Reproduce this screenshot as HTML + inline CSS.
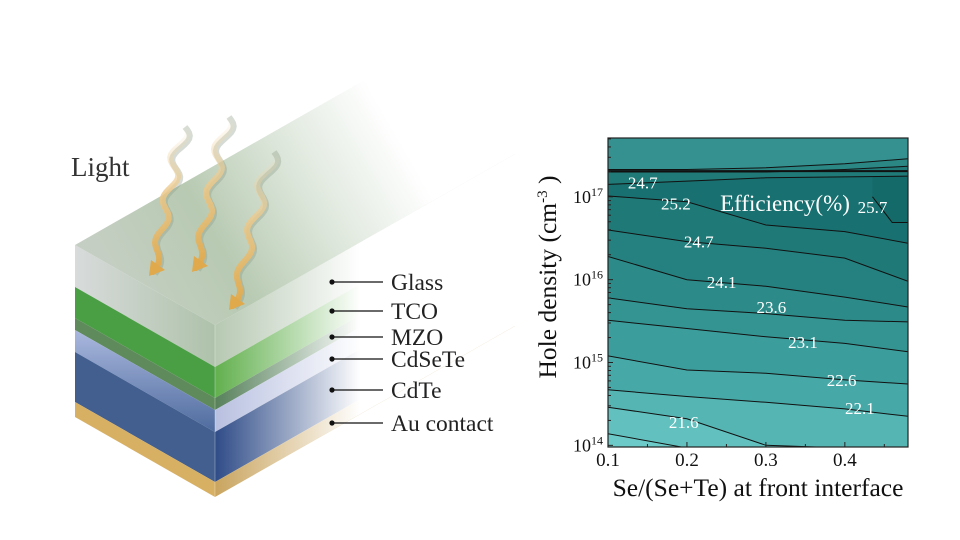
<!DOCTYPE html>
<html><head><meta charset="utf-8"><style>
html,body{margin:0;padding:0;background:#fff;overflow:hidden;width:960px;height:540px;}
svg{display:block;font-family:"Liberation Serif",serif;}
</style></head><body>
<svg id="root" width="960" height="540" viewBox="0 0 960 540">
<defs>
  <linearGradient id="fadeR" gradientUnits="userSpaceOnUse" x1="215" y1="0" x2="360" y2="0">
    <stop offset="0" stop-color="#fff" stop-opacity="0"/>
    <stop offset="1" stop-color="#fff" stop-opacity="1"/>
  </linearGradient>
  <linearGradient id="topG" gradientUnits="userSpaceOnUse" x1="120" y1="300" x2="400" y2="140">
    <stop offset="0" stop-color="#c2ccc0"/>
    <stop offset="0.35" stop-color="#b4c7ae"/>
    <stop offset="0.7" stop-color="#dfe8dd"/>
    <stop offset="1" stop-color="#ffffff"/>
  </linearGradient>
  <linearGradient id="glassL" x1="0" y1="0" x2="1" y2="0">
    <stop offset="0" stop-color="#d8dbdb"/>
    <stop offset="1" stop-color="#aec2aa"/>
  </linearGradient>
  <linearGradient id="cdseL" x1="0" y1="0" x2="0" y2="1">
    <stop offset="0" stop-color="#aab8de"/>
    <stop offset="1" stop-color="#4e6b9e"/>
  </linearGradient>
  <linearGradient id="arrowG" x1="0" y1="0" x2="0" y2="1">
    <stop offset="0" stop-color="#f2dcb4" stop-opacity="0"/>
    <stop offset="0.45" stop-color="#ecc98c" stop-opacity="0.85"/>
    <stop offset="1" stop-color="#dfa94c"/>
  </linearGradient>
  <clipPath id="plotClip"><rect x="608" y="138" width="300" height="309"/></clipPath>
</defs>

<g id="device"></g>
<text x="71" y="176" font-size="27" fill="#333">Light</text>
<g id="arrows"></g>
<g id="layerLabels"></g>

<g id="chart"></g>
</svg>
<script>
const NS="http://www.w3.org/2000/svg";
function mk(tag,attrs,parent){const e=document.createElementNS(NS,tag);for(const k in attrs)e.setAttribute(k,attrs[k]);parent.appendChild(e);return e;}

/* ---------- device ---------- */
const layerNames=["Glass","TCO","MZO","CdSeTe","CdTe","Au contact"];
const layerTops=[245,287,318,330,352,402,417];
const layerLeftFill=["url(#glassL)","#4a9e44","#5f8a5c","url(#cdseL)","#425f90","#d8b064"];
const layerRightFill=["#b6c8b2","#62b04e","#56805a","#b8c0e0","#2f4c88","#c9a45e"];
const labelY=[282,311,337,359,390,423];
const dev=document.getElementById('device');
const LX=75,FX=215,DROP=80,RL=300,RS=0.57;
for(let i=0;i<6;i++){
  const t=layerTops[i],b=layerTops[i+1];
  const p=mk('polygon',{points:`${LX},${t} ${FX},${t+DROP} ${FX},${b+DROP} ${LX},${b}`,fill:layerLeftFill[i]},dev);
  
  
  const g=mk('g',{},dev);
  
  
  const pts=`${FX},${t+DROP} ${FX+RL},${t+DROP-RL*RS} ${FX+RL},${b+DROP-RL*RS} ${FX},${b+DROP}`;
  mk('polygon',{points:pts,fill:layerRightFill[i]},g);
}
const fadeFace=mk('polygon',{points:`${FX},${245+DROP} ${FX+RL},${245+DROP-RL*RS} ${FX+RL},${417+DROP-RL*RS} ${FX},${417+DROP}`,fill:"url(#fadeR)"},dev);


const topFace=mk('polygon',{points:`${LX},245 ${FX},${245+DROP} ${FX+RL},${245+DROP-RL*RS} ${LX+RL},${245-RL*RS}`,fill:"url(#topG)",opacity:"0.95"},dev);


mk('line',{x1:FX,y1:245+DROP,x2:FX,y2:417+DROP,stroke:"#ffffff","stroke-opacity":"0.3"},dev);

const arrowStarts=[[183,125],[227,115],[272,150]];
const arrowEnds=[[153,272],[196,268],[233,306]];
const arrG=document.getElementById('arrows');
arrowStarts.forEach((s,i)=>{
  const e=arrowEnds[i];let d=`M${s[0]},${s[1]}`;
  const n=50;
  for(let k=1;k<=n;k++){const f=k/n;const x=s[0]+(e[0]-s[0])*f+7*Math.sin(f*Math.PI*7)*(1-f*0.5);const y=s[1]+(e[1]-s[1])*f;d+=` L${x.toFixed(1)},${y.toFixed(1)}`;}
  const sh=mk('path',{d:d,fill:"none",stroke:"#8a9a88","stroke-opacity":"0.35","stroke-width":"6",transform:"translate(2,2)"},arrG);
  
  
  const p=mk('path',{d:d,fill:"none",stroke:"url(#arrowG)","stroke-width":"6","stroke-linecap":"round"},arrG);
  
  
  const h=mk('polygon',{points:`${e[0]-4},${e[1]+4} ${e[0]-2},${e[1]-12} ${e[0]+12},${e[1]-2}`,fill:"#dfa94c"},arrG);
  
  
});

const llG=document.getElementById('layerLabels');
layerNames.forEach((n,i)=>{
  const g=mk('g',{},llG);
  
  
  mk('circle',{cx:332,cy:labelY[i],r:2.6,fill:"#111"},g);
  mk('line',{x1:332,y1:labelY[i],x2:383,y2:labelY[i],stroke:"#111","stroke-width":"1.3"},g);
  const t=mk('text',{x:391,y:labelY[i]+8,"font-size":"23.5",fill:"#222"},g);t.textContent=n;
});

/* ---------- chart ---------- */
const xGrid=[0.1,0.2,0.3,0.4,0.48];
const c247top=[17.33,17.33,17.35,17.40,17.46];
const cThick=[17.31,17.31,17.31,17.31,17.31];
const c247b=[17.30,17.30,17.30,17.33,17.37];
const c252top=[17.15,17.19,17.23,17.24,17.25];
const c252=[17.01,16.94,16.66,16.58,16.44];
const c241=[16.60,16.46,16.38,16.26,15.98];
const c236=[16.28,16.00,15.92,15.79,15.67];
const c231=[15.78,15.65,15.59,15.51,15.49];
const c226=[15.51,15.41,15.31,15.23,15.13];
const c221=[15.08,14.91,14.87,14.79,14.74];
const c216=[14.67,14.59,14.52,14.44,14.35];
const c211=[14.46,14.32,14.00,13.80,13.60];
const c206=[14.14,13.70,13.40,13.10,12.90];
const x257=[0.435,0.46,0.48];
const y257=[17.00,16.69,16.69];
const contourSets=[c247top,cThick,c247b,c252top,c252,c241,c236,c231,c226,c221,c216,c211,c206];
const bandColors=["#2a8784","#237e7b","#207a77","#197070","#1f7a77","#25817f","#2c8b89","#349492","#3c9e9c","#47a9a7","#54b5b3","#62c1bf","#6ccac8"];
const xTicks=[0.1,0.2,0.3,0.4];
const yTickExp=[14,15,16,17];
const labelTexts=["24.7","25.2","24.7","24.1","23.6","23.1","22.6","22.1","21.6","25.7"];
const labelX=[0.144,0.186,0.215,0.244,0.307,0.347,0.396,0.419,0.196,0.435];
const labelY2=[17.17,16.92,16.46,15.97,15.67,15.25,14.79,14.45,14.28,16.88];

const X0=608,X1=908,Y0=447,Y1=138,XMIN=0.1,XMAX=0.48,LMIN=13.98,LMAX=17.71;
const sx=v=>X0+(v-XMIN)/(XMAX-XMIN)*(X1-X0);
const sy=v=>Y0-(v-LMIN)/(LMAX-LMIN)*(Y0-Y1);
const syc=v=>Math.min(Y0+1,Math.max(Y1-1,sy(v)));
const chG=document.getElementById('chart');
const plotG=mk('g',{"clip-path":"url(#plotClip)"},chG);


const bgRect=mk('rect',{x:X0,y:Y1,width:X1-X0,height:Y0-Y1,fill:"#35918f"},plotG);


contourSets.forEach((c,i)=>{
  const pts=xGrid.map((x,j)=>`${sx(x).toFixed(1)},${syc(c[j]).toFixed(1)}`);
  const poly=mk('polygon',{points:pts.join(' ')+` ${X1},${Y0+1} ${X0},${Y0+1}`,fill:bandColors[i]},plotG);
  
  
});
const p257=mk('polygon',{points:x257.map((x,j)=>`${sx(x)},${sy(y257[j])}`).join(' ')+` ${sx(0.48)},${sy(17.25)} ${sx(0.435)},${sy(17.24)}`,fill:"#146a68"},plotG);


contourSets.forEach((c,i)=>{
  const pts=xGrid.map((x,j)=>`${sx(x).toFixed(1)},${syc(c[j]).toFixed(1)}`).join(' ');
  const l=mk('polyline',{points:pts,fill:"none",stroke:"#111","stroke-width":c===cThick?"2":"1"},plotG);
  
  
});
const l257=mk('polyline',{points:x257.map((x,j)=>`${sx(x)},${sy(y257[j])}`).join(' '),fill:"none",stroke:"#111","stroke-width":"1"},plotG);


labelTexts.forEach((t,i)=>{
  const e=mk('text',{x:sx(labelX[i]),y:sy(labelY2[i])+6,"font-size":"17",fill:"#fff","text-anchor":"middle"},plotG);
  e.textContent=t;
  
  
});
const effT=mk('text',{x:785,y:211,"font-size":"23","text-anchor":"middle",fill:"#fff"},plotG);
effT.textContent="Efficiency(%)";



const frame=mk('rect',{x:X0,y:Y1,width:X1-X0,height:Y0-Y1,fill:"none",stroke:"#222","stroke-width":"1.2"},chG);


const xtG=mk('g',{},chG);


for(let v=0.1;v<=0.4801;v+=0.05){mk('line',{x1:sx(v),x2:sx(v),y1:Y0,y2:Y0-(Math.abs(v*10-Math.round(v*10))<0.01?5:3),stroke:"#222"},xtG);}
xTicks.forEach(v=>{const t=mk('text',{x:sx(v),y:Y0+19,"font-size":"19","text-anchor":"middle",fill:"#111"},xtG);t.textContent=v.toFixed(1);
  
  });
const xTitle=mk('text',{x:758,y:496,"font-size":"25.5","text-anchor":"middle",fill:"#111"},chG);
xTitle.textContent="Se/(Se+Te) at front interface";


const ytG=mk('g',{},chG);


for(let d=13;d<=17;d++){for(let m=1;m<10;m++){const v=d+Math.log10(m);if(v<LMIN||v>LMAX)continue;mk('line',{x1:X0,x2:X0+(m===1?5:3),y1:sy(v),y2:sy(v),stroke:"#222"},ytG);}}
yTickExp.forEach(e=>{const t=mk('text',{x:X0-5,y:sy(e)+6,"font-size":"18","text-anchor":"end",fill:"#111"},ytG);
  
  
  const a=document.createElementNS(NS,'tspan');a.textContent="10";t.appendChild(a);
  const b=document.createElementNS(NS,'tspan');b.setAttribute('dy','-7');b.setAttribute('font-size','12');b.textContent=e;t.appendChild(b);});
const yTitle=mk('text',{x:0,y:0,"font-size":"25.5","text-anchor":"middle",fill:"#111",transform:"translate(556,277) rotate(-90)"},chG);


const ya=document.createElementNS(NS,'tspan');ya.textContent="Hole density (cm";yTitle.appendChild(ya);
const yb=document.createElementNS(NS,'tspan');yb.setAttribute('dy','-9');yb.setAttribute('font-size','15');yb.textContent="-3";yTitle.appendChild(yb);
const yc=document.createElementNS(NS,'tspan');yc.setAttribute('dy','9');yc.textContent=" )";yTitle.appendChild(yc);
</script>
</body></html>
